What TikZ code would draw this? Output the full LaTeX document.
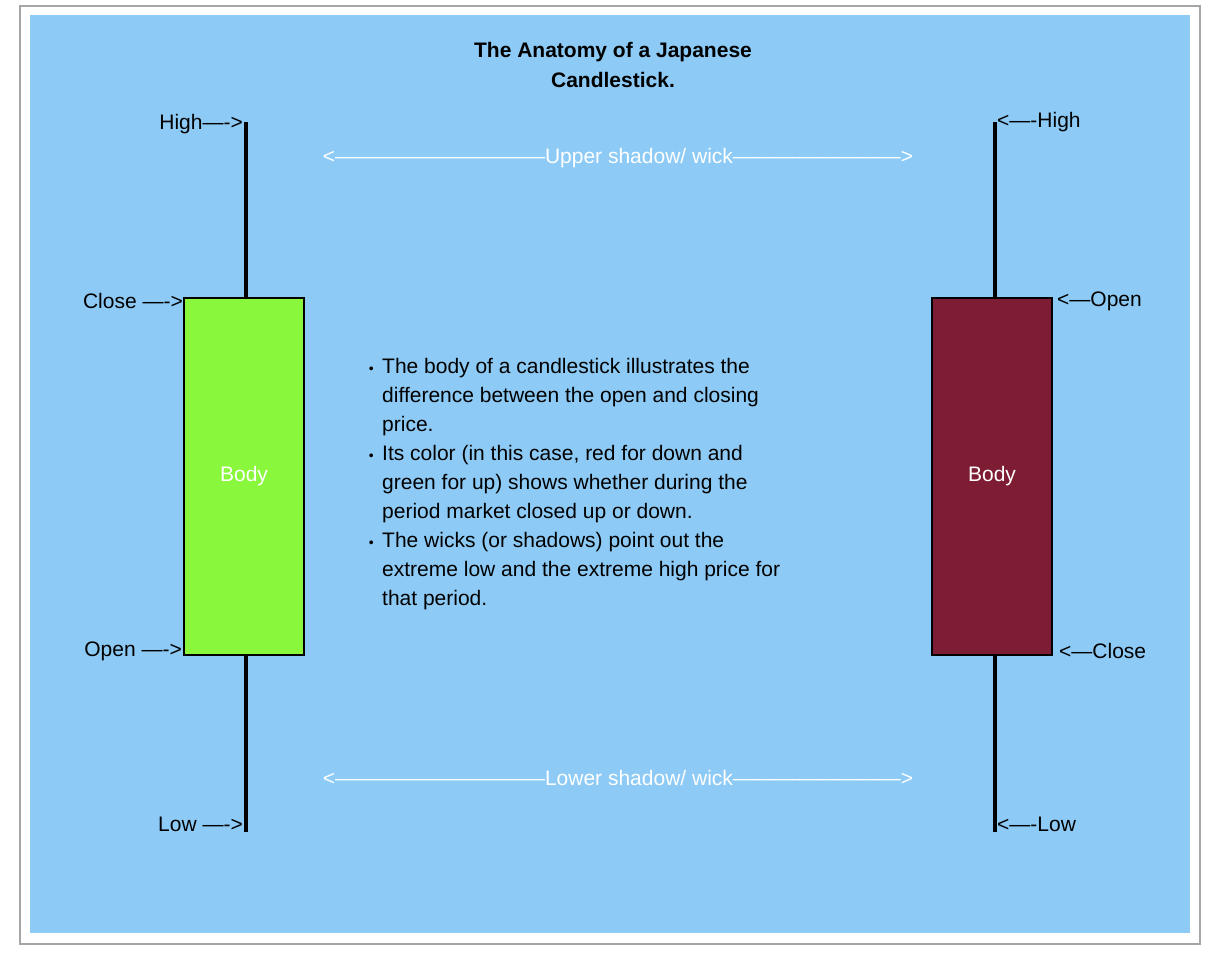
\documentclass[tikz,border=0pt]{standalone}
\usepackage{fontspec}
\setmainfont{Liberation Sans}
\begin{document}
\begin{tikzpicture}[x=1pt,y=-1pt,
  lbl/.style={font=\fontsize{21}{25}\selectfont,inner sep=0pt},
  wlbl/.style={lbl,text=white},
  wick/.style={line width=4pt,line cap=butt},
  bodybox/.style={draw=black,line width=1.8pt}]
\definecolor{bg}{HTML}{8DCBF6}
\definecolor{upg}{HTML}{89F73B}
\definecolor{dnr}{HTML}{7E1C33}
\useasboundingbox (0,0) rectangle (1220,961);
\fill[white] (0,0) rectangle (1220,961);
\draw[gray!70,line width=2.5pt] (20,6) rectangle (1200,944);
\fill[bg] (30,15) rectangle (1190,933);
\node[lbl,font=\fontsize{21}{30}\selectfont\bfseries,align=center] (title) at (613,65) {The Anatomy of a Japanese\\Candlestick.};
% left candle
\coordinate (lt) at (246,122); \coordinate (lb) at (246,832);
\draw[wick] (lt) -- (lb);
\node[bodybox,fill=upg,minimum width=120pt,minimum height=357pt,inner sep=0pt] (lbody) at (244,476.5) {};
\node[wlbl] at (lbody) {Body};
% right candle
\coordinate (rt) at (995,122); \coordinate (rb) at (995,832);
\draw[wick] (rt) -- (rb);
\node[bodybox,fill=dnr,minimum width=120pt,minimum height=357pt,inner sep=0pt] (rbody) at (992,476.5) {};
\node[wlbl] at (rbody) {Body};
% labels
\node[lbl,anchor=east] (lh) at (243,124) {High---->};
\node[lbl,anchor=east] (lc) at (183,301) {Close ---->};
\node[lbl,anchor=east] (lo) at (182,651) {Open ---->};
\node[lbl,anchor=east] (ll) at (243,824) {Low ---->};
\node[lbl,anchor=west] (rh) at (997,122) {<----High};
\node[lbl,anchor=west] (ro) at (1057,301) {<---Open};
\node[lbl,anchor=west] (rc) at (1059,651) {<---Close};
\node[lbl,anchor=west] (rl) at (997,824) {<----Low};
\node[wlbl] (us) at (618,158) {<------------------------------Upper shadow/ wick------------------------>};
\node[wlbl] (ls) at (618,778) {<------------------------------Lower shadow/ wick------------------------>};
% bullets
\foreach \t [count=\i] in {The body of a candlestick illustrates the,difference between the open and closing,price.,{Its color (in this case, red for down and},green for up) shows whether during the,period market closed up or down.,The wicks (or shadows) point out the,extreme low and the extreme high price for,that period.}
  \node[lbl,anchor=base west] (b\i) at (382,373+29*\i-29) {\t};
\foreach \j in {1,4,7}
  \node[lbl,anchor=base east] (d\j) at (374,373+29*\j-29) {\fontsize{14}{14}\selectfont•};
\end{tikzpicture}
\end{document}
